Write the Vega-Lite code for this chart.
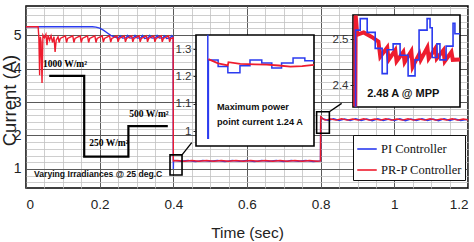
{
  "$schema": "https://vega.github.io/schema/vega-lite/v6.json",
  "width": 442,
  "height": 182,
  "autosize": {"type": "none"},
  "padding": {"left": 26, "top": 6, "right": 6, "bottom": 54},
  "background": "white",
  "config": {
    "view": {"stroke": "black", "strokeWidth": 1.5, "fill": "white"},
    "font": "Liberation Sans"
  },
  "datasets": {
    "current": [
      {"s": "PI Controller", "t": 0, "v": 5.25},
      {"s": "PI Controller", "t": 0.18, "v": 5.25},
      {"s": "PI Controller", "t": 0.19, "v": 5.24},
      {"s": "PI Controller", "t": 0.2, "v": 5.21},
      {"s": "PI Controller", "t": 0.21, "v": 5.15},
      {"s": "PI Controller", "t": 0.22, "v": 5.07},
      {"s": "PI Controller", "t": 0.23, "v": 4.99},
      {"s": "PI Controller", "t": 0.24, "v": 4.95},
      {"s": "PI Controller", "t": 0.25, "v": 4.91},
      {"s": "PI Controller", "t": 0.256, "v": 4.98},
      {"s": "PI Controller", "t": 0.262, "v": 4.91},
      {"s": "PI Controller", "t": 0.272, "v": 4.92},
      {"s": "PI Controller", "t": 0.276, "v": 4.99},
      {"s": "PI Controller", "t": 0.282, "v": 4.91},
      {"s": "PI Controller", "t": 0.292, "v": 4.92},
      {"s": "PI Controller", "t": 0.296, "v": 4.99},
      {"s": "PI Controller", "t": 0.302, "v": 4.91},
      {"s": "PI Controller", "t": 0.312, "v": 4.92},
      {"s": "PI Controller", "t": 0.316, "v": 4.99},
      {"s": "PI Controller", "t": 0.322, "v": 4.9},
      {"s": "PI Controller", "t": 0.332, "v": 4.92},
      {"s": "PI Controller", "t": 0.336, "v": 4.99},
      {"s": "PI Controller", "t": 0.342, "v": 4.91},
      {"s": "PI Controller", "t": 0.352, "v": 4.92},
      {"s": "PI Controller", "t": 0.356, "v": 4.99},
      {"s": "PI Controller", "t": 0.362, "v": 4.91},
      {"s": "PI Controller", "t": 0.372, "v": 4.92},
      {"s": "PI Controller", "t": 0.376, "v": 4.98},
      {"s": "PI Controller", "t": 0.382, "v": 4.9},
      {"s": "PI Controller", "t": 0.392, "v": 4.92},
      {"s": "PI Controller", "t": 0.396, "v": 4.98},
      {"s": "PI Controller", "t": 0.3995, "v": 4.93},
      {"s": "PI Controller", "t": 0.4, "v": 1.0},
      {"s": "PI Controller", "t": 0.4005, "v": 1.26},
      {"s": "PI Controller", "t": 0.42, "v": 1.23},
      {"s": "PI Controller", "t": 0.44, "v": 1.25},
      {"s": "PI Controller", "t": 0.46, "v": 1.22},
      {"s": "PI Controller", "t": 0.48, "v": 1.25},
      {"s": "PI Controller", "t": 0.5, "v": 1.23},
      {"s": "PI Controller", "t": 0.52, "v": 1.25},
      {"s": "PI Controller", "t": 0.54, "v": 1.22},
      {"s": "PI Controller", "t": 0.56, "v": 1.25},
      {"s": "PI Controller", "t": 0.58, "v": 1.23},
      {"s": "PI Controller", "t": 0.6, "v": 1.25},
      {"s": "PI Controller", "t": 0.62, "v": 1.22},
      {"s": "PI Controller", "t": 0.64, "v": 1.25},
      {"s": "PI Controller", "t": 0.66, "v": 1.23},
      {"s": "PI Controller", "t": 0.68, "v": 1.25},
      {"s": "PI Controller", "t": 0.7, "v": 1.22},
      {"s": "PI Controller", "t": 0.72, "v": 1.25},
      {"s": "PI Controller", "t": 0.74, "v": 1.23},
      {"s": "PI Controller", "t": 0.76, "v": 1.25},
      {"s": "PI Controller", "t": 0.78, "v": 1.22},
      {"s": "PI Controller", "t": 0.7995, "v": 1.24},
      {"s": "PI Controller", "t": 0.8, "v": 2.55},
      {"s": "PI Controller", "t": 0.806, "v": 2.5},
      {"s": "PI Controller", "t": 0.82, "v": 2.45},
      {"s": "PI Controller", "t": 0.835, "v": 2.5},
      {"s": "PI Controller", "t": 0.85, "v": 2.45},
      {"s": "PI Controller", "t": 0.865, "v": 2.49},
      {"s": "PI Controller", "t": 0.88, "v": 2.45},
      {"s": "PI Controller", "t": 0.895, "v": 2.5},
      {"s": "PI Controller", "t": 0.91, "v": 2.45},
      {"s": "PI Controller", "t": 0.925, "v": 2.49},
      {"s": "PI Controller", "t": 0.94, "v": 2.44},
      {"s": "PI Controller", "t": 0.955, "v": 2.5},
      {"s": "PI Controller", "t": 0.97, "v": 2.45},
      {"s": "PI Controller", "t": 0.985, "v": 2.49},
      {"s": "PI Controller", "t": 1.0, "v": 2.45},
      {"s": "PI Controller", "t": 1.015, "v": 2.5},
      {"s": "PI Controller", "t": 1.03, "v": 2.44},
      {"s": "PI Controller", "t": 1.045, "v": 2.49},
      {"s": "PI Controller", "t": 1.06, "v": 2.45},
      {"s": "PI Controller", "t": 1.075, "v": 2.5},
      {"s": "PI Controller", "t": 1.09, "v": 2.45},
      {"s": "PI Controller", "t": 1.105, "v": 2.49},
      {"s": "PI Controller", "t": 1.12, "v": 2.44},
      {"s": "PI Controller", "t": 1.135, "v": 2.5},
      {"s": "PI Controller", "t": 1.15, "v": 2.45},
      {"s": "PI Controller", "t": 1.165, "v": 2.49},
      {"s": "PI Controller", "t": 1.18, "v": 2.45},
      {"s": "PI Controller", "t": 1.2, "v": 2.48},
      {"s": "PR-P Controller", "t": 0, "v": 5.25},
      {"s": "PR-P Controller", "t": 0.033, "v": 5.25},
      {"s": "PR-P Controller", "t": 0.035, "v": 4.9},
      {"s": "PR-P Controller", "t": 0.037, "v": 3.8},
      {"s": "PR-P Controller", "t": 0.039, "v": 4.95},
      {"s": "PR-P Controller", "t": 0.041, "v": 4.8},
      {"s": "PR-P Controller", "t": 0.0435, "v": 3.57},
      {"s": "PR-P Controller", "t": 0.046, "v": 5.0},
      {"s": "PR-P Controller", "t": 0.05, "v": 4.92},
      {"s": "PR-P Controller", "t": 0.054, "v": 5.02},
      {"s": "PR-P Controller", "t": 0.057, "v": 4.7},
      {"s": "PR-P Controller", "t": 0.06, "v": 5.0},
      {"s": "PR-P Controller", "t": 0.064, "v": 4.85},
      {"s": "PR-P Controller", "t": 0.068, "v": 4.98},
      {"s": "PR-P Controller", "t": 0.072, "v": 4.78},
      {"s": "PR-P Controller", "t": 0.076, "v": 4.95},
      {"s": "PR-P Controller", "t": 0.079, "v": 4.5},
      {"s": "PR-P Controller", "t": 0.082, "v": 4.85},
      {"s": "PR-P Controller", "t": 0.087, "v": 4.95},
      {"s": "PR-P Controller", "t": 0.09, "v": 4.78},
      {"s": "PR-P Controller", "t": 0.093, "v": 4.9},
      {"s": "PR-P Controller", "t": 0.107, "v": 4.98},
      {"s": "PR-P Controller", "t": 0.11, "v": 4.78},
      {"s": "PR-P Controller", "t": 0.113, "v": 4.9},
      {"s": "PR-P Controller", "t": 0.127, "v": 4.98},
      {"s": "PR-P Controller", "t": 0.13, "v": 4.78},
      {"s": "PR-P Controller", "t": 0.133, "v": 4.9},
      {"s": "PR-P Controller", "t": 0.147, "v": 4.98},
      {"s": "PR-P Controller", "t": 0.15, "v": 4.78},
      {"s": "PR-P Controller", "t": 0.153, "v": 4.9},
      {"s": "PR-P Controller", "t": 0.167, "v": 4.98},
      {"s": "PR-P Controller", "t": 0.17, "v": 4.78},
      {"s": "PR-P Controller", "t": 0.173, "v": 4.9},
      {"s": "PR-P Controller", "t": 0.187, "v": 4.98},
      {"s": "PR-P Controller", "t": 0.19, "v": 4.78},
      {"s": "PR-P Controller", "t": 0.193, "v": 4.9},
      {"s": "PR-P Controller", "t": 0.207, "v": 4.98},
      {"s": "PR-P Controller", "t": 0.21, "v": 4.79},
      {"s": "PR-P Controller", "t": 0.213, "v": 4.9},
      {"s": "PR-P Controller", "t": 0.227, "v": 4.98},
      {"s": "PR-P Controller", "t": 0.23, "v": 4.79},
      {"s": "PR-P Controller", "t": 0.233, "v": 4.9},
      {"s": "PR-P Controller", "t": 0.247, "v": 4.98},
      {"s": "PR-P Controller", "t": 0.25, "v": 4.8},
      {"s": "PR-P Controller", "t": 0.253, "v": 4.9},
      {"s": "PR-P Controller", "t": 0.267, "v": 4.98},
      {"s": "PR-P Controller", "t": 0.27, "v": 4.8},
      {"s": "PR-P Controller", "t": 0.273, "v": 4.9},
      {"s": "PR-P Controller", "t": 0.287, "v": 4.98},
      {"s": "PR-P Controller", "t": 0.29, "v": 4.8},
      {"s": "PR-P Controller", "t": 0.293, "v": 4.9},
      {"s": "PR-P Controller", "t": 0.307, "v": 4.98},
      {"s": "PR-P Controller", "t": 0.31, "v": 4.8},
      {"s": "PR-P Controller", "t": 0.313, "v": 4.9},
      {"s": "PR-P Controller", "t": 0.327, "v": 4.98},
      {"s": "PR-P Controller", "t": 0.33, "v": 4.8},
      {"s": "PR-P Controller", "t": 0.333, "v": 4.9},
      {"s": "PR-P Controller", "t": 0.347, "v": 4.98},
      {"s": "PR-P Controller", "t": 0.35, "v": 4.8},
      {"s": "PR-P Controller", "t": 0.353, "v": 4.9},
      {"s": "PR-P Controller", "t": 0.367, "v": 4.98},
      {"s": "PR-P Controller", "t": 0.37, "v": 4.8},
      {"s": "PR-P Controller", "t": 0.373, "v": 4.9},
      {"s": "PR-P Controller", "t": 0.387, "v": 4.98},
      {"s": "PR-P Controller", "t": 0.39, "v": 4.8},
      {"s": "PR-P Controller", "t": 0.393, "v": 4.9},
      {"s": "PR-P Controller", "t": 0.3995, "v": 4.92},
      {"s": "PR-P Controller", "t": 0.4, "v": 1.24},
      {"s": "PR-P Controller", "t": 0.41, "v": 1.25},
      {"s": "PR-P Controller", "t": 0.43, "v": 1.23},
      {"s": "PR-P Controller", "t": 0.45, "v": 1.25},
      {"s": "PR-P Controller", "t": 0.47, "v": 1.23},
      {"s": "PR-P Controller", "t": 0.49, "v": 1.25},
      {"s": "PR-P Controller", "t": 0.51, "v": 1.23},
      {"s": "PR-P Controller", "t": 0.53, "v": 1.25},
      {"s": "PR-P Controller", "t": 0.55, "v": 1.23},
      {"s": "PR-P Controller", "t": 0.57, "v": 1.25},
      {"s": "PR-P Controller", "t": 0.59, "v": 1.23},
      {"s": "PR-P Controller", "t": 0.61, "v": 1.25},
      {"s": "PR-P Controller", "t": 0.63, "v": 1.23},
      {"s": "PR-P Controller", "t": 0.65, "v": 1.25},
      {"s": "PR-P Controller", "t": 0.67, "v": 1.23},
      {"s": "PR-P Controller", "t": 0.69, "v": 1.25},
      {"s": "PR-P Controller", "t": 0.71, "v": 1.23},
      {"s": "PR-P Controller", "t": 0.73, "v": 1.25},
      {"s": "PR-P Controller", "t": 0.75, "v": 1.23},
      {"s": "PR-P Controller", "t": 0.77, "v": 1.25},
      {"s": "PR-P Controller", "t": 0.79, "v": 1.23},
      {"s": "PR-P Controller", "t": 0.7995, "v": 1.24},
      {"s": "PR-P Controller", "t": 0.8, "v": 2.56},
      {"s": "PR-P Controller", "t": 0.807, "v": 2.49},
      {"s": "PR-P Controller", "t": 0.812, "v": 2.46},
      {"s": "PR-P Controller", "t": 0.827, "v": 2.49},
      {"s": "PR-P Controller", "t": 0.842, "v": 2.46},
      {"s": "PR-P Controller", "t": 0.857, "v": 2.5},
      {"s": "PR-P Controller", "t": 0.872, "v": 2.46},
      {"s": "PR-P Controller", "t": 0.887, "v": 2.49},
      {"s": "PR-P Controller", "t": 0.902, "v": 2.46},
      {"s": "PR-P Controller", "t": 0.917, "v": 2.5},
      {"s": "PR-P Controller", "t": 0.932, "v": 2.46},
      {"s": "PR-P Controller", "t": 0.947, "v": 2.49},
      {"s": "PR-P Controller", "t": 0.962, "v": 2.46},
      {"s": "PR-P Controller", "t": 0.977, "v": 2.5},
      {"s": "PR-P Controller", "t": 0.992, "v": 2.46},
      {"s": "PR-P Controller", "t": 1.007, "v": 2.49},
      {"s": "PR-P Controller", "t": 1.022, "v": 2.46},
      {"s": "PR-P Controller", "t": 1.037, "v": 2.5},
      {"s": "PR-P Controller", "t": 1.052, "v": 2.46},
      {"s": "PR-P Controller", "t": 1.067, "v": 2.49},
      {"s": "PR-P Controller", "t": 1.082, "v": 2.46},
      {"s": "PR-P Controller", "t": 1.097, "v": 2.5},
      {"s": "PR-P Controller", "t": 1.112, "v": 2.46},
      {"s": "PR-P Controller", "t": 1.127, "v": 2.49},
      {"s": "PR-P Controller", "t": 1.142, "v": 2.46},
      {"s": "PR-P Controller", "t": 1.157, "v": 2.5},
      {"s": "PR-P Controller", "t": 1.172, "v": 2.46},
      {"s": "PR-P Controller", "t": 1.187, "v": 2.49},
      {"s": "PR-P Controller", "t": 1.2, "v": 2.47}
    ],
    "irradiance": [
      {"t": 0.063, "v": 3.78, "w": 1000},
      {"t": 0.158, "v": 1.37, "w": 250},
      {"t": 0.278, "v": 2.28, "w": 500},
      {"t": 0.385, "v": 2.28, "w": 500}
    ],
    "irradianceLabels": [
      {"t": 0.106, "v": 4.15, "label": "1000 W/m²"},
      {"t": 0.225, "v": 1.79, "label": "250 W/m²"},
      {"t": 0.334, "v": 2.64, "label": "500 W/m²"}
    ],
    "note": [
      {"t": 0.196, "v": 0.84, "label": "Varying Irradiances @ 25 deg.C"}
    ],
    "zoomBoxes": [
      {"t0": 0.391, "t1": 0.4236, "v0": 0.82, "v1": 1.42},
      {"t0": 0.789, "t1": 0.8236, "v0": 2.066, "v1": 2.71}
    ],
    "connectors": [
      {"t0": 0.4236, "v0": 1.42, "t1": 0.45, "v1": 1.785},
      {"t0": 0.8236, "v0": 2.71, "t1": 0.857, "v1": 2.96}
    ],
    "frame1": [{"t0": 0.396, "t1": 0.436, "v0": 0.947, "v1": 1.351}],
    "frame2": [{"t0": 0.799, "t1": 0.839, "v0": 2.352, "v1": 2.553}],
    "zoom1": [
      {"s": "PI Controller", "t": 0.39995, "v": 1.35},
      {"s": "PI Controller", "t": 0.4, "v": 0.975},
      {"s": "PI Controller", "t": 0.4002, "v": 1.26},
      {"s": "PI Controller", "t": 0.4035, "v": 1.236},
      {"s": "PI Controller", "t": 0.4068, "v": 1.214},
      {"s": "PI Controller", "t": 0.4109, "v": 1.239},
      {"s": "PI Controller", "t": 0.4143, "v": 1.26},
      {"s": "PI Controller", "t": 0.4183, "v": 1.249},
      {"s": "PI Controller", "t": 0.4217, "v": 1.231},
      {"s": "PI Controller", "t": 0.425, "v": 1.249},
      {"s": "PI Controller", "t": 0.4289, "v": 1.267},
      {"s": "PI Controller", "t": 0.4329, "v": 1.257},
      {"s": "PI Controller", "t": 0.436, "v": 1.257},
      {"s": "PR-P Controller", "t": 0.4002, "v": 1.263},
      {"s": "PR-P Controller", "t": 0.4035, "v": 1.248},
      {"s": "PR-P Controller", "t": 0.4068, "v": 1.24},
      {"s": "PR-P Controller", "t": 0.407, "v": 1.252},
      {"s": "PR-P Controller", "t": 0.411, "v": 1.246},
      {"s": "PR-P Controller", "t": 0.416, "v": 1.244},
      {"s": "PR-P Controller", "t": 0.42, "v": 1.243},
      {"s": "PR-P Controller", "t": 0.424, "v": 1.24},
      {"s": "PR-P Controller", "t": 0.428, "v": 1.236},
      {"s": "PR-P Controller", "t": 0.432, "v": 1.238},
      {"s": "PR-P Controller", "t": 0.436, "v": 1.242}
    ],
    "zoom1Notes": [
      {"t": 0.4031, "v": 1.089, "label": "Maximum power"},
      {"t": 0.4031, "v": 1.0345, "label": "point current 1.24 A"}
    ],
    "zoom2": [
      {"s": "PI Controller", "t": 0.7999, "v": 2.353},
      {"s": "PI Controller", "t": 0.79995, "v": 2.52},
      {"s": "PI Controller", "t": 0.8017, "v": 2.545},
      {"s": "PI Controller", "t": 0.8043, "v": 2.515},
      {"s": "PI Controller", "t": 0.8073, "v": 2.48},
      {"s": "PI Controller", "t": 0.8099, "v": 2.425},
      {"s": "PI Controller", "t": 0.8118, "v": 2.477},
      {"s": "PI Controller", "t": 0.814, "v": 2.49},
      {"s": "PI Controller", "t": 0.8166, "v": 2.465},
      {"s": "PI Controller", "t": 0.8196, "v": 2.42},
      {"s": "PI Controller", "t": 0.8222, "v": 2.455},
      {"s": "PI Controller", "t": 0.8237, "v": 2.52},
      {"s": "PI Controller", "t": 0.8267, "v": 2.545},
      {"s": "PI Controller", "t": 0.8278, "v": 2.525},
      {"s": "PI Controller", "t": 0.8286, "v": 2.46},
      {"s": "PI Controller", "t": 0.8304, "v": 2.49},
      {"s": "PI Controller", "t": 0.8315, "v": 2.455},
      {"s": "PI Controller", "t": 0.8338, "v": 2.485},
      {"s": "PI Controller", "t": 0.8364, "v": 2.535},
      {"s": "PI Controller", "t": 0.8371, "v": 2.512},
      {"s": "PI Controller", "t": 0.839, "v": 2.512},
      {"s": "PR-P Controller", "t": 0.79985, "v": 2.353},
      {"s": "PR-P Controller", "t": 0.8, "v": 2.552},
      {"s": "PR-P Controller", "t": 0.8006, "v": 2.51},
      {"s": "PR-P Controller", "t": 0.803, "v": 2.515},
      {"s": "PR-P Controller", "t": 0.806, "v": 2.505},
      {"s": "PR-P Controller", "t": 0.8085, "v": 2.495},
      {"s": "PR-P Controller", "t": 0.8092, "v": 2.462},
      {"s": "PR-P Controller", "t": 0.8118, "v": 2.482},
      {"s": "PR-P Controller", "t": 0.8123, "v": 2.455},
      {"s": "PR-P Controller", "t": 0.8148, "v": 2.476},
      {"s": "PR-P Controller", "t": 0.8153, "v": 2.452},
      {"s": "PR-P Controller", "t": 0.8178, "v": 2.472},
      {"s": "PR-P Controller", "t": 0.8183, "v": 2.45},
      {"s": "PR-P Controller", "t": 0.8208, "v": 2.474},
      {"s": "PR-P Controller", "t": 0.8213, "v": 2.44},
      {"s": "PR-P Controller", "t": 0.8238, "v": 2.468},
      {"s": "PR-P Controller", "t": 0.8243, "v": 2.455},
      {"s": "PR-P Controller", "t": 0.8268, "v": 2.482},
      {"s": "PR-P Controller", "t": 0.8273, "v": 2.458},
      {"s": "PR-P Controller", "t": 0.8298, "v": 2.48},
      {"s": "PR-P Controller", "t": 0.8303, "v": 2.458},
      {"s": "PR-P Controller", "t": 0.8328, "v": 2.476},
      {"s": "PR-P Controller", "t": 0.8333, "v": 2.452},
      {"s": "PR-P Controller", "t": 0.8358, "v": 2.472},
      {"s": "PR-P Controller", "t": 0.8363, "v": 2.455},
      {"s": "PR-P Controller", "t": 0.839, "v": 2.456}
    ],
    "zoom2Notes": [
      {"t": 0.8178, "v": 2.38, "label": "2.48 A @ MPP"}
    ]
  },
  "resolve": {"scale": {"x": "independent", "y": "independent"}},
  "layer": [
    {
      "data": {"name": "irradiance"},
      "mark": {"type": "point", "opacity": 0},
      "encoding": {
        "x": {
          "field": "t", "type": "quantitative",
          "scale": {"domain": [0, 1.2], "nice": false, "zero": false},
          "axis": {
            "orient": "bottom", "title": null, "labels": false, "ticks": false, "domain": false,
            "grid": true, "gridColor": "#c2c2c2", "gridWidth": 0.8,
            "values": [0.05, 0.1, 0.15, 0.25, 0.3, 0.35, 0.45, 0.5, 0.55, 0.65, 0.7, 0.75, 0.85, 0.9, 0.95, 1.05, 1.1, 1.15]
          }
        },
        "y": {
          "field": "v", "type": "quantitative",
          "scale": {"domain": [0.43, 5.87], "nice": false, "zero": false},
          "axis": {
            "orient": "left", "title": null, "labels": false, "ticks": false, "domain": false,
            "grid": true, "gridColor": "#c2c2c2", "gridWidth": 0.8,
            "values": [0.6, 0.8, 1.2, 1.4, 1.6, 1.8, 2.2, 2.4, 2.6, 2.8, 3.2, 3.4, 3.6, 3.8, 4.2, 4.4, 4.6, 4.8, 5.2, 5.4, 5.6, 5.8]
          }
        }
      }
    },
    {
      "layer": [
        {
          "data": {"name": "current"},
          "mark": {"type": "line", "strokeWidth": 1.4},
          "encoding": {
            "x": {
              "field": "t", "type": "quantitative", "title": "Time (sec)",
              "scale": {"domain": [0, 1.2], "nice": false, "zero": false},
              "axis": {
                "orient": "bottom", "values": [0, 0.2, 0.4, 0.6, 0.8, 1, 1.2], "format": "~g",
                "grid": true, "gridColor": "#5a5a5a", "gridWidth": 1, "domain": false, "ticks": false,
                "labelFontSize": 13.5, "labelColor": "#222", "labelPadding": 9,
                "titleFontSize": 15.5, "titleFontWeight": "normal", "titleColor": "#222",
                "titleX": 221, "titleY": 44, "titleBaseline": "middle"
              }
            },
            "y": {
              "field": "v", "type": "quantitative", "title": "Current (A)",
              "scale": {"domain": [0.43, 5.87], "nice": false, "zero": false},
              "axis": {
                "orient": "left", "values": [1, 2, 3, 4, 5], "format": "~g",
                "grid": true, "gridColor": "#5a5a5a", "gridWidth": 1, "domain": false, "ticks": false,
                "labelFontSize": 14, "labelColor": "#222", "labelPadding": 5,
                "titleFontSize": 18.5, "titleFontWeight": "normal", "titleColor": "#222",
                "titleX": -17, "titleY": 94, "titleAngle": -90, "titleBaseline": "middle", "titleAlign": "center"
              }
            },
            "color": {
              "field": "s", "type": "nominal",
              "scale": {"domain": ["PI Controller", "PR-P Controller"], "range": ["#2b3bef", "#ee1c2e"]},
              "legend": {
                "orient": "none", "legendX": 327, "legendY": 129, "title": null,
                "symbolType": "stroke", "symbolSize": 380, "symbolStrokeWidth": 1.6,
                "labelFont": "Liberation Serif", "labelFontSize": 12.5, "labelColor": "#111", "labelOffset": 3,
                "fillColor": "white", "strokeColor": "#111", "padding": 3, "rowPadding": 3
              }
            }
          }
        },
        {
          "data": {"name": "irradiance"},
          "mark": {"type": "line", "interpolate": "step-after", "color": "black", "strokeWidth": 2.2},
          "encoding": {
            "x": {"field": "t", "type": "quantitative", "title": "Time (sec)"},
            "y": {"field": "v", "type": "quantitative", "title": "Current (A)"}
          }
        },
        {
          "data": {"name": "irradianceLabels"},
          "mark": {"type": "text", "font": "Liberation Serif", "fontWeight": "bold", "fontSize": 9.5, "color": "black"},
          "encoding": {
            "x": {"field": "t", "type": "quantitative", "title": "Time (sec)"},
            "y": {"field": "v", "type": "quantitative", "title": "Current (A)"},
            "text": {"field": "label"}
          }
        },
        {
          "data": {"name": "note"},
          "mark": {"type": "text", "fontWeight": "bold", "fontSize": 8.6, "color": "#111"},
          "encoding": {
            "x": {"field": "t", "type": "quantitative", "title": "Time (sec)"},
            "y": {"field": "v", "type": "quantitative", "title": "Current (A)"},
            "text": {"field": "label"}
          }
        },
        {
          "data": {"name": "zoomBoxes"},
          "mark": {"type": "rect", "fillOpacity": 0, "stroke": "black", "strokeWidth": 1.6},
          "encoding": {
            "x": {"field": "t0", "type": "quantitative", "title": "Time (sec)"},
            "x2": {"field": "t1"},
            "y": {"field": "v0", "type": "quantitative", "title": "Current (A)"},
            "y2": {"field": "v1"}
          }
        },
        {
          "data": {"name": "connectors"},
          "mark": {"type": "rule", "color": "black", "strokeWidth": 1.3},
          "encoding": {
            "x": {"field": "t0", "type": "quantitative", "title": "Time (sec)"},
            "x2": {"field": "t1"},
            "y": {"field": "v0", "type": "quantitative", "title": "Current (A)"},
            "y2": {"field": "v1"}
          }
        }
      ]
    },
    {
      "layer": [
        {
          "data": {"name": "frame1"},
          "mark": {"type": "rect", "fill": "white", "stroke": "black", "strokeWidth": 1.6},
          "encoding": {
            "x": {
              "field": "t0", "type": "quantitative",
              "scale": {"domain": [0.396, 0.436], "range": [170, 288], "nice": false, "zero": false},
              "axis": null
            },
            "x2": {"field": "t1"},
            "y": {
              "field": "v0", "type": "quantitative", "title": null,
              "scale": {"domain": [0.947, 1.351], "range": [140, 29], "nice": false, "zero": false},
              "axis": {
                "orient": "left", "offset": -170, "values": [1, 1.1, 1.2, 1.3], "format": "~g",
                "grid": false, "domain": false, "ticks": true, "tickSize": 3, "tickColor": "#222",
                "labelFontSize": 11.5, "labelColor": "#333", "labelPadding": 2, "zindex": 1
              }
            },
            "y2": {"field": "v1"}
          }
        },
        {
          "data": {"name": "zoom1"},
          "transform": [{"filter": "datum.s === 'PI Controller'"}],
          "mark": {"type": "line", "interpolate": "step-after", "color": "#2b3bef", "strokeWidth": 1.5},
          "encoding": {
            "x": {"field": "t", "type": "quantitative", "axis": null},
            "y": {"field": "v", "type": "quantitative", "title": null}
          }
        },
        {
          "data": {"name": "zoom1"},
          "transform": [{"filter": "datum.s === 'PR-P Controller'"}],
          "mark": {"type": "line", "color": "#ee1c2e", "strokeWidth": 1.8},
          "encoding": {
            "x": {"field": "t", "type": "quantitative", "axis": null},
            "y": {"field": "v", "type": "quantitative", "title": null}
          }
        },
        {
          "data": {"name": "zoom1Notes"},
          "mark": {"type": "text", "align": "left", "fontWeight": "bold", "fontSize": 9.2, "color": "#111"},
          "encoding": {
            "x": {"field": "t", "type": "quantitative", "axis": null},
            "y": {"field": "v", "type": "quantitative", "title": null},
            "text": {"field": "label"}
          }
        }
      ]
    },
    {
      "layer": [
        {
          "data": {"name": "frame2"},
          "mark": {"type": "rect", "fill": "white", "stroke": "black", "strokeWidth": 1.6},
          "encoding": {
            "x": {
              "field": "t0", "type": "quantitative",
              "scale": {"domain": [0.799, 0.839], "range": [327, 434], "nice": false, "zero": false},
              "axis": null
            },
            "x2": {"field": "t1"},
            "y": {
              "field": "v0", "type": "quantitative", "title": null,
              "scale": {"domain": [2.352, 2.553], "range": [101, 9], "nice": false, "zero": false},
              "axis": {
                "orient": "left", "offset": -327, "values": [2.4, 2.5], "format": "~g",
                "grid": false, "domain": false, "ticks": true, "tickSize": 3, "tickColor": "#222",
                "labelFontSize": 11.5, "labelColor": "#333", "labelPadding": 2, "zindex": 1
              }
            },
            "y2": {"field": "v1"}
          }
        },
        {
          "data": {"name": "zoom2"},
          "transform": [{"filter": "datum.s === 'PR-P Controller'"}],
          "mark": {"type": "line", "color": "#ee1c2e", "strokeWidth": 4},
          "encoding": {
            "x": {"field": "t", "type": "quantitative", "axis": null},
            "y": {"field": "v", "type": "quantitative", "title": null}
          }
        },
        {
          "data": {"name": "zoom2"},
          "transform": [{"filter": "datum.s === 'PI Controller'"}],
          "mark": {"type": "line", "interpolate": "step-after", "color": "#2b3bef", "strokeWidth": 1.6},
          "encoding": {
            "x": {"field": "t", "type": "quantitative", "axis": null},
            "y": {"field": "v", "type": "quantitative", "title": null}
          }
        },
        {
          "data": {"name": "zoom2Notes"},
          "mark": {"type": "text", "fontWeight": "bold", "fontSize": 11, "color": "#111"},
          "encoding": {
            "x": {"field": "t", "type": "quantitative", "axis": null},
            "y": {"field": "v", "type": "quantitative", "title": null},
            "text": {"field": "label"}
          }
        }
      ]
    }
  ]
}
